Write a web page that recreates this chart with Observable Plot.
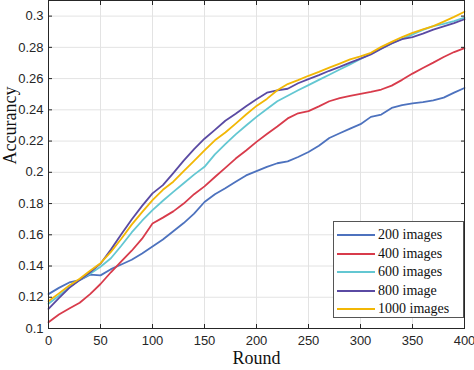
<!DOCTYPE html>
<html>
<head>
<meta charset="utf-8">
<script src="https://cdn.jsdelivr.net/npm/d3@7"></script>
<script src="https://cdn.jsdelivr.net/npm/@observablehq/plot@0.6"></script>
<style>
  html, body { margin: 0; padding: 0; background: #fff; }
  #wrap { position: relative; width: 474px; height: 370px; }
  #legend {
    position: absolute; left: 333px; top: 221px; width: 129px; height: 95px;
    border: 1px solid #555; background: #fff; box-sizing: content-box;
    font-family: "Liberation Serif", "Times New Roman", serif; font-size: 14px; color: #111;
  }
  .row { position: absolute; left: 0; height: 18px; display: flex; align-items: center; }
  .row svg { margin-left: 3px; margin-right: 3px; }
</style>
</head>
<body>
<div id="wrap"><div id="legend"></div></div>
<script>
const rounds = [0,10,20,30,40,50,60,70,80,90,100,110,120,130,140,150,160,170,180,190,200,
  210,220,230,240,250,260,270,280,290,300,310,320,330,340,350,360,370,380,390,400];

const seriesNames = ["200 images", "400 images", "600 images", "800 image", "1000 images"];
const seriesColors = ["#4d72be", "#d83b4b", "#63c7d2", "#5a4aa3", "#f2b705"];

const acc200 = [0.122,0.126,0.1295,0.131,0.1345,0.134,0.138,0.141,0.144,0.148,0.1525,
  0.157,0.1623,0.1675,0.1735,0.181,0.186,0.1898,0.194,0.198,0.2008,
  0.2035,0.2058,0.207,0.2098,0.213,0.217,0.222,0.225,0.228,0.2308,
  0.2355,0.237,0.2412,0.243,0.2442,0.245,0.246,0.2478,0.251,0.254];
const acc400 = [0.104,0.109,0.1128,0.1165,0.122,0.1285,0.136,0.143,0.1498,0.1575,0.1672,
  0.171,0.175,0.18,0.186,0.191,0.197,0.2028,0.2088,0.214,0.2195,
  0.2245,0.2293,0.2345,0.2378,0.2392,0.2422,0.2455,0.2475,0.2489,0.2502,
  0.2515,0.253,0.2555,0.2592,0.2632,0.2668,0.2702,0.2738,0.277,0.2795];
const acc600 = [0.1158,0.121,0.1265,0.131,0.135,0.1395,0.145,0.153,0.1615,0.169,0.1758,
  0.1818,0.1875,0.193,0.1985,0.2035,0.2115,0.218,0.2243,0.23,0.2355,
  0.2405,0.2455,0.249,0.2525,0.2558,0.2592,0.2625,0.2658,0.2691,0.2725,
  0.2758,0.2792,0.2825,0.2855,0.2882,0.2912,0.2936,0.295,0.2968,0.299];
const acc800 = [0.1126,0.1195,0.126,0.131,0.136,0.1415,0.1505,0.1603,0.1698,0.1785,0.1865,
  0.1918,0.1995,0.2075,0.2148,0.2215,0.2272,0.233,0.2375,0.2423,0.2468,
  0.251,0.2525,0.2535,0.257,0.2597,0.2622,0.265,0.2675,0.2702,0.2728,
  0.2755,0.2792,0.2825,0.2852,0.2866,0.2888,0.2914,0.2935,0.2955,0.298];
const acc1000 = [0.1175,0.1225,0.1275,0.1318,0.137,0.1418,0.149,0.1575,0.1665,0.1745,0.1822,
  0.1888,0.194,0.2008,0.2073,0.214,0.2205,0.2255,0.2312,0.237,0.2425,
  0.247,0.2525,0.2565,0.259,0.2618,0.2643,0.267,0.2696,0.2723,0.2742,
  0.2765,0.2803,0.2835,0.2866,0.2893,0.2915,0.2936,0.2965,0.2995,0.3028];

const xTicks = [0,50,100,150,200,250,300,350,400];
const yTicks = [0.1,0.12,0.14,0.16,0.18,0.2,0.22,0.24,0.26,0.28,0.3];
const xLabel = "Round";
const yLabel = "Accurancy";

const allSeries = [acc200, acc400, acc600, acc800, acc1000];
const data = [];
allSeries.forEach((vals, i) => {
  vals.forEach((v, j) => data.push({series: seriesNames[i], round: rounds[j], acc: v}));
});

const chart = Plot.plot({
  width: 474, height: 370,
  marginLeft: 48, marginRight: 10, marginTop: 0, marginBottom: 42,
  style: {fontFamily: "'Liberation Sans', Arial, sans-serif", fontSize: "13px", color: "#262626", background: "#fff"},
  x: {domain: [0, 400]},
  y: {domain: [0.1, 0.31]},
  color: {domain: seriesNames, range: seriesColors},
  marks: [
    Plot.gridX(xTicks, {stroke: "#e3e3e3", strokeOpacity: 1}),
    Plot.gridY(yTicks, {stroke: "#e3e3e3", strokeOpacity: 1}),
    Plot.line(data, {x: "round", y: "acc", z: "series", stroke: "series", strokeWidth: 1.8}),
    Plot.axisX(xTicks, {tickSize: -4, tickPadding: 11, label: null, stroke: "#262626", fontSize: 13}),
    Plot.axisX(xTicks, {anchor: "top", tickSize: -4, tickFormat: () => "", label: null, stroke: "#262626"}),
    Plot.axisY(yTicks, {tickSize: -4, tickPadding: 9, tickFormat: d => String(d), label: null, stroke: "#262626", fontSize: 13}),
    Plot.axisY(yTicks, {anchor: "right", tickSize: -4, tickFormat: () => "", label: null, stroke: "#262626"}),
    Plot.frame({stroke: "#262626", strokeWidth: 1}),
    Plot.text([xLabel], {frameAnchor: "bottom", dy: 35, fontFamily: "'Liberation Serif', 'Times New Roman', serif", fontSize: 18, fill: "#111"}),
    Plot.text([yLabel], {frameAnchor: "left", dx: -38, rotate: -90, fontFamily: "'Liberation Serif', 'Times New Roman', serif", fontSize: 18, fill: "#111"})
  ]
});
document.getElementById("wrap").insertBefore(chart, document.getElementById("legend"));

const legend = document.getElementById("legend");
seriesNames.forEach((name, i) => {
  const row = document.createElement("div");
  row.className = "row";
  row.style.top = (4 + i * 18.6) + "px";
  row.innerHTML = `<svg width="38" height="4"><line x1="0" x2="38" y1="2" y2="2" stroke="${seriesColors[i]}" stroke-width="2"/></svg><span>${name}</span>`;
  legend.appendChild(row);
});
</script>
</body>
</html>
